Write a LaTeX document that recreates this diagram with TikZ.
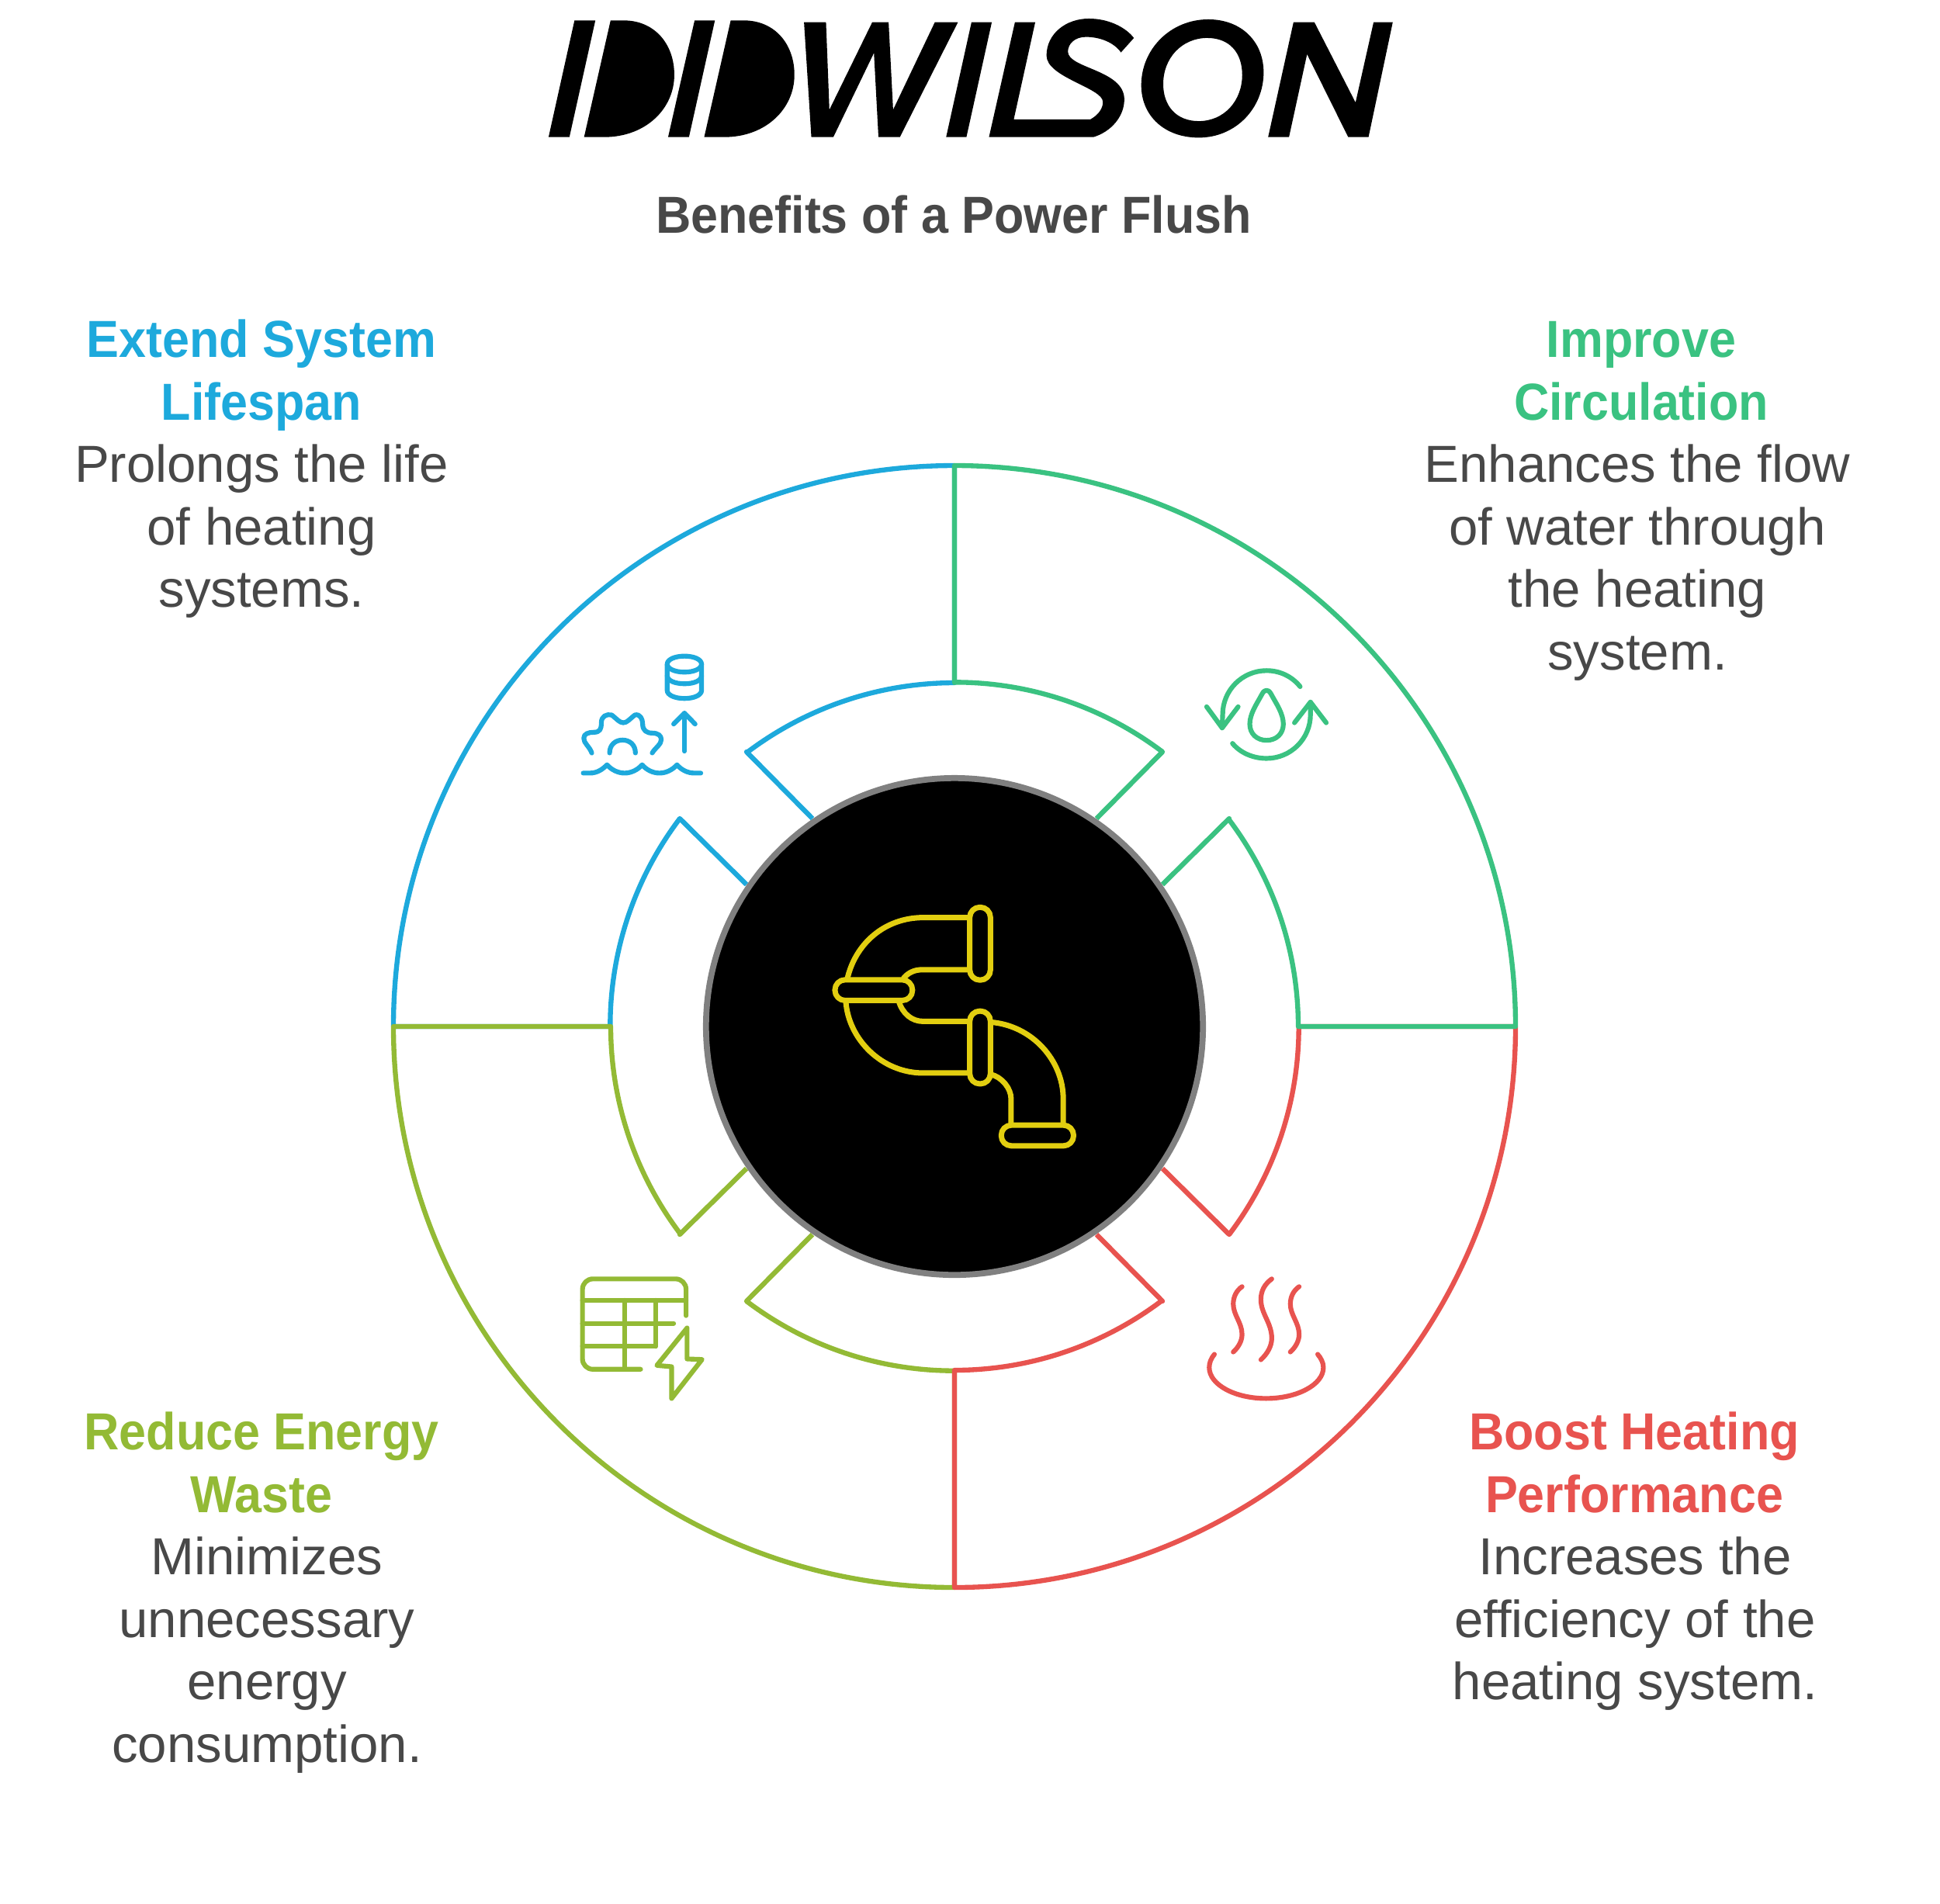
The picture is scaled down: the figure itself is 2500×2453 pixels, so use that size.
\documentclass[tikz,border=0pt]{standalone}
\usepackage{fontspec}
\setmainfont{Liberation Sans}[BoldFeatures={FakeStretch=0.935}]
\definecolor{cblue}{HTML}{1DA9DC}
\definecolor{cgreen}{HTML}{3AC281}
\definecolor{cred}{HTML}{E8534F}
\definecolor{colive}{HTML}{93BA35}
\definecolor{cyell}{HTML}{E2CE10}
\definecolor{ctext}{HTML}{484848}
\definecolor{cring}{HTML}{808080}
\tikzset{
 ringline/.style={line width=1.8pt,line join=round},
 iconline/.style={line width=1.75pt,line cap=round,line join=round},
 pipeline/.style={line width=2pt,color=cyell,line join=round},
 headtxt/.style={inner sep=0pt,anchor=north,align=center,font=\fontsize{19.1}{22.85}\selectfont\bfseries},
 bodytxt/.style={inner sep=0pt,anchor=north,align=center,text=ctext,font=\fontsize{19.1}{22.85}\selectfont},
}
\newcommand{\quadshape}{(183,268) -- (268,354) arc[start angle=52.9,end angle=90,radius=443] -- (0,443) -- (0,723) arc[start angle=90,end angle=0,radius=723] -- (723,0) -- (443,0) arc[start angle=0,end angle=37.1,radius=443] -- (354,268) -- (268,183)}
\begin{document}
\begin{tikzpicture}[x=0.01cm,y=-0.01cm]
\useasboundingbox (0,0) rectangle (2500,2453);
\fill[white] (0,0) rectangle (2500,2453);
% logo
\begin{scope}[shift={(680,0)},x=0.00727cm,y=-0.003333cm]
\fill (83,79) -- (120,79) -- (74,531) -- (37,531) -- cycle;
\fill (147,79) -- (170,79) .. controls (225,79) and (260,170) .. (260,290) .. controls (260,420) and (210,531) .. (135,531) -- (100,531) -- cycle;
\fill (296,79) -- (332,79) -- (286,531) -- (249,531) -- cycle;
\fill (360,79) -- (383,79) .. controls (438,79) and (473,170) .. (473,290) .. controls (473,420) and (423,531) .. (348,531) -- (313,531) -- cycle;
\fill (490,86) -- (529,86) -- (535,425) -- (611,86) -- (640,86) -- (648,425) -- (722,86) -- (763,86) -- (660,531) -- (622,531) -- (614,205) -- (542,531) -- (503,531) -- cycle;
\fill (787,86) -- (823,86) -- (778,531) -- (742,531) -- cycle;
\fill (864,86) -- (900,86) -- (862,462) -- (998,462) .. controls (1012,445) and (1020,420) .. (1020,395) .. controls (1020,340) and (920,300) .. (920,215) .. controls (920,130) and (955,72) .. (995,72) .. controls (1030,72) and (1060,105) .. (1075,147) -- (1052,203) .. controls (1040,165) and (1015,143) .. (990,143) .. controls (970,143) and (958,170) .. (958,200) .. controls (958,265) and (1058,270) .. (1058,385) .. controls (1058,450) and (1035,510) .. (1003,531) -- (818,531) -- cycle;
\fill[even odd rule] (1207,75) .. controls (1265,75) and (1305,160) .. (1305,280) .. controls (1305,420) and (1255,533) .. (1190,533) .. controls (1130,533) and (1088,450) .. (1088,330) .. controls (1088,190) and (1140,75) .. (1207,75) -- cycle
 (1205,147) .. controls (1160,147) and (1127,225) .. (1127,325) .. controls (1127,410) and (1150,469) .. (1190,469) .. controls (1235,469) and (1267,390) .. (1267,290) .. controls (1267,205) and (1245,147) .. (1205,147) -- cycle;
\fill (1358,86) -- (1395,86) -- (1468,397) -- (1500,86) -- (1534,86) -- (1491,531) -- (1455,531) -- (1382,210) -- (1350,531) -- (1313,531) -- cycle;
\end{scope}
% title
\node[inner sep=0pt,anchor=base,text=ctext,font=\fontsize{19.1}{22.85}\selectfont\bfseries] (title) at (1229,300) {Benefits of a Power Flush};
% ring
\begin{scope}[shift={(1230,1323)},x=0.01cm,y=0.01cm]
\draw[ringline,cblue,rotate=90] \quadshape;
\draw[ringline,colive,rotate=180] \quadshape;
\draw[ringline,cred,rotate=-90] \quadshape;
\draw[ringline,cgreen] \quadshape;
\end{scope}
\node[circle,fill=black,draw=cring,line width=2.2pt,minimum size=6.4cm,inner sep=0pt] (hub) at (1230,1323) {};
% pipe icon
\begin{scope}[shift={(1050,1140)},x=0.003333cm,y=-0.003333cm]
\draw[pipeline,rounded corners=0.13cm] (600,88) rectangle (680,370);
\draw[pipeline,rounded corners=0.13cm] (78,369) rectangle (378,449);
\draw[pipeline,rounded corners=0.13cm] (600,490) rectangle (680,772);
\draw[pipeline,rounded corners=0.13cm] (722,932) rectangle (1002,1012);
\draw[pipeline] (600,128) -- (420,128) .. controls (270,128) and (155,230) .. (125,369);
\draw[pipeline] (600,330) -- (415,330) .. controls (385,330) and (360,342) .. (342,365);
\draw[pipeline] (120,452) .. controls (130,600) and (260,730) .. (420,730) -- (600,730);
\draw[pipeline] (325,452) .. controls (340,500) and (375,530) .. (420,530) -- (600,530);
\draw[pipeline] (680,533) .. controls (840,545) and (962,680) .. (962,830) -- (962,932);
\draw[pipeline] (680,735) .. controls (725,745) and (760,790) .. (760,830) -- (760,932);
\end{scope}
% blue icon
\begin{scope}[shift={(720,820)},x=0.003333cm,y=-0.003333cm,iconline,cblue]
\draw (420,108) .. controls (420,90) and (450,77) .. (487,77) .. controls (524,77) and (553,90) .. (553,108) .. controls (553,126) and (524,139) .. (487,139) .. controls (450,139) and (420,126) .. (420,108) -- cycle;
\draw (420,108) -- (420,210) .. controls (420,228) and (450,241) .. (487,241) .. controls (524,241) and (553,228) .. (553,210) -- (553,108);
\draw (420,152) .. controls (420,172) and (450,184) .. (487,184) .. controls (524,184) and (553,172) .. (553,152);
\draw (487,445) -- (487,298);
\draw (445,340) -- (487,298) -- (528,340);
\draw (128,452) .. controls (118,425) and (97,415) .. (97,395) .. controls (97,378) and (115,372) .. (135,372) .. controls (160,372) and (165,360) .. (165,335) .. controls (165,310) and (185,300) .. (205,305) .. controls (225,320) and (235,335) .. (250,335) .. controls (265,335) and (275,320) .. (295,305) .. controls (315,300) and (325,320) .. (325,340) .. controls (325,365) and (340,375) .. (362,375) .. controls (385,375) and (397,385) .. (397,400) .. controls (397,420) and (375,430) .. (362,452);
\draw (197,452) .. controls (197,420) and (220,402) .. (247,402) .. controls (274,402) and (297,420) .. (297,452);
\draw (95,530) -- (120,530) .. controls (150,530) and (170,515) .. (187,498) .. controls (205,518) and (230,530) .. (255,530) .. controls (280,530) and (305,518) .. (323,498) .. controls (340,518) and (365,530) .. (390,530) .. controls (415,530) and (440,518) .. (458,498) .. controls (475,518) and (500,530) .. (525,530) -- (550,530);
\end{scope}
% green icon
\begin{scope}[shift={(1520,840)},x=0.003333cm,y=-0.003333cm,iconline,cgreen]
\draw (467,135) .. controls (435,95) and (388,73) .. (337,73) .. controls (243,73) and (167,149) .. (167,243) -- (165,295);
\draw (105,213) -- (165,295) -- (227,213);
\draw (205,355) .. controls (237,393) and (286,413) .. (337,413) .. controls (431,413) and (507,337) .. (507,243) -- (507,195);
\draw (445,275) -- (507,195) -- (568,275);
\draw (337,150) .. controls (325,150) and (322,160) .. (315,172) .. controls (300,200) and (272,240) .. (272,280) .. controls (272,318) and (300,343) .. (337,343) .. controls (374,343) and (402,318) .. (402,280) .. controls (402,240) and (374,200) .. (359,172) .. controls (352,160) and (349,150) .. (337,150) -- cycle;
\end{scope}
% olive icon
\begin{scope}[shift={(720,1630)},x=0.003333cm,y=-0.003333cm,iconline,colive]
\draw (493,197) -- (493,95) .. controls (493,73) and (475,55) .. (453,55) -- (132,55) .. controls (110,55) and (92,73) .. (92,95) -- (92,365) .. controls (92,387) and (110,405) .. (132,405) -- (317,405);
\draw (92,138) -- (493,138);
\draw (92,227) -- (445,227);
\draw (92,316) -- (375,316);
\draw (256,138) -- (256,405);
\draw (375,138) -- (375,316);
\draw (497,245) -- (497,365) -- (555,367) -- (437,518) -- (437,395) -- (380,390) -- cycle;
\end{scope}
% red icon
\begin{scope}[shift={(1530,1630)},x=0.003333cm,y=-0.003333cm,iconline,cred]
\draw (105,347) .. controls (92,362) and (85,380) .. (85,398) .. controls (85,465) and (185,518) .. (305,518) .. controls (425,518) and (527,465) .. (527,398) .. controls (527,380) and (518,362) .. (505,347);
\draw (212,85) .. controls (190,100) and (178,125) .. (178,152) .. controls (178,195) and (212,225) .. (212,270) .. controls (212,295) and (198,320) .. (178,338);
\draw (327,55) .. controls (300,75) and (285,100) .. (285,135) .. controls (285,190) and (327,225) .. (327,285) .. controls (327,315) and (310,345) .. (285,368);
\draw (433,85) .. controls (411,100) and (399,125) .. (399,152) .. controls (399,195) and (433,225) .. (433,270) .. controls (433,295) and (419,320) .. (399,338);
\end{scope}
% texts
\node[headtxt,text=cblue] (h1) at (337,404) {\strut Extend System\\Lifespan};
\node[bodytxt] (b1) at (337,565) {\strut Prolongs the life\\of heating\\systems.};
\node[headtxt,text=cgreen] (h2) at (2115,404) {\strut Improve\\Circulation};
\node[bodytxt] (b2) at (2110,565) {\strut Enhances the flow\\of water through\\the heating\\system.};
\node[headtxt,text=cred] (h3) at (2106,1812) {\strut Boost Heating\\Performance};
\node[bodytxt] (b3) at (2107,1973) {\strut Increases the\\efficiency of the\\heating system.};
\node[headtxt,text=colive] (h4) at (337,1812) {\strut Reduce Energy\\Waste};
\node[bodytxt] (b4) at (344,1973) {\strut Minimizes\\unnecessary\\energy\\consumption.};
\end{tikzpicture}
\end{document}
